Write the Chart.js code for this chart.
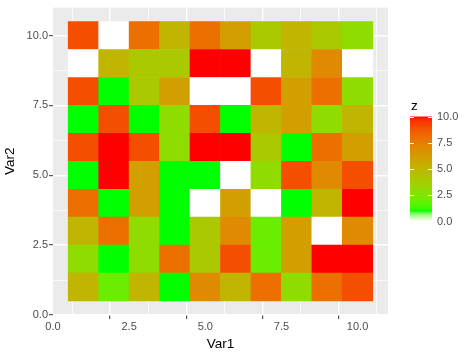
<!DOCTYPE html>
<html><head><meta charset="utf-8">
<script src="https://cdn.jsdelivr.net/npm/chart.js@4/dist/chart.umd.min.js"></script>
<style>html,body{margin:0;padding:0;background:#fff}</style>
</head><body>
<canvas id="c" width="474" height="354"></canvas>
<script>
// ---- data ----
const var1 = [1, 2, 3, 4, 5, 6, 7, 8, 9, 10];
const var2 = [1, 2, 3, 4, 5, 6, 7, 8, 9, 10];
const z_y1  = [5, 2, 5, 1, 7, 5, 8, 3, 8, 9];
const z_y2  = [3, 1, 3, 8, 4, 9, 2, 6, 10, 10];
const z_y3  = [5, 8, 3, 1, 4, 7, 2, 6, 0, 7];
const z_y4  = [8, 1, 6, 1, 0, 6, 0, 1, 5, 10];
const z_y5  = [1, 10, 6, 1, 1, 0, 3, 9, 7, 9];
const z_y6  = [9, 10, 9, 3, 10, 10, 4, 1, 8, 6];
const z_y7  = [1, 9, 1, 3, 9, 1, 5, 6, 3, 5];
const z_y8  = [9, 1, 4, 6, 0, 0, 9, 6, 8, 3];
const z_y9  = [0, 5, 4, 4, 10, 10, 0, 5, 7, 0];
const z_y10 = [9, 0, 8, 5, 8, 6, 4, 5, 4, 3];
const zRows = [z_y1, z_y2, z_y3, z_y4, z_y5, z_y6, z_y7, z_y8, z_y9, z_y10];
const axisMajorTicks = [0, 2.5, 5, 7.5, 10];
const axisMinorTicks = [1.25, 3.75, 6.25, 8.75];
const legendTicks = [0, 2.5, 5, 7.5, 10];
const colourStops = [[0, '#FFFFFF'], [1, '#00FF00'], [10, '#FF0000']];

// ---- colour (Lab interpolation like ggplot) ----
function hexToRgb(h){return [parseInt(h.slice(1,3),16),parseInt(h.slice(3,5),16),parseInt(h.slice(5,7),16)];}
function toLin(c){c/=255;return c<=0.04045?c/12.92:Math.pow((c+0.055)/1.055,2.4);}
function fromLin(c){c=c<=0.0031308?12.92*c:1.055*Math.pow(c,1/2.4)-0.055;return Math.max(0,Math.min(255,Math.round(c*255)));}
function rgbToLab(rgb){
  const [r,g,b]=rgb.map(toLin);
  let X=(0.4124*r+0.3576*g+0.1805*b)/0.95047, Y=(0.2126*r+0.7152*g+0.0722*b), Z=(0.0193*r+0.1192*g+0.9505*b)/1.08883;
  const f=t=>t>0.008856?Math.cbrt(t):(7.787*t+16/116);
  const fx=f(X),fy=f(Y),fz=f(Z);
  return [116*fy-16,500*(fx-fy),200*(fy-fz)];
}
function labToRgb(lab){
  const [L,a,b]=lab; const fy=(L+16)/116, fx=fy+a/500, fz=fy-b/200;
  const fi=t=>t*t*t>0.008856?t*t*t:(t-16/116)/7.787;
  const X=fi(fx)*0.95047, Y=fi(fy), Z=fi(fz)*1.08883;
  const r=3.2406*X-1.5372*Y-0.4986*Z, g=-0.9689*X+1.8758*Y+0.0415*Z, bb=0.0557*X-0.2040*Y+1.0570*Z;
  return 'rgb('+fromLin(r)+','+fromLin(g)+','+fromLin(bb)+')';
}
const stopLabs = colourStops.map(s=>[s[0], rgbToLab(hexToRgb(s[1]))]);
function colourFor(v){
  for(let i=0;i<stopLabs.length-1;i++){
    const [v0,l0]=stopLabs[i],[v1,l1]=stopLabs[i+1];
    if(v<=v1||i===stopLabs.length-2){
      const t=Math.max(0,Math.min(1,(v-v0)/(v1-v0)));
      return labToRgb([0,1,2].map(k=>l0[k]+(l1[k]-l0[k])*t));
    }
  }
}

const FONT = "'Liberation Sans', Arial, Helvetica, sans-serif";
const allTicks = axisMajorTicks.concat(axisMinorTicks).sort((a,b)=>a-b);
const isMajor = v => axisMajorTicks.includes(v);
const tickIsMajor = c => !!(c && c.tick && isMajor(c.tick.value));

const datasets = var2.map((yv, i) => ({
  label: 'y' + yv,
  data: var1.map(xv => ({x: xv, y: [yv - 0.5, yv + 0.5]})),
  backgroundColor: zRows[i].map(colourFor),
  borderWidth: 0,
  grouped: false,
  barPercentage: 1,
  categoryPercentage: 1
}));

function axisCfg(title, isX){
  return {
    type: 'linear', min: 0, max: 11, offset: false,
    border: {display: false},
    afterBuildTicks: s => { s.ticks = allTicks.map(v => ({value: v})); },
    afterFit: s => { if (isX) s.height = 39; else s.width = 53; },
    grid: {
      color: '#FFFFFF',
      lineWidth: c => tickIsMajor(c) ? 1.4 : 0.7,
      tickColor: c => tickIsMajor(c) ? '#333333' : 'rgba(0,0,0,0)',
      tickWidth: 1, tickLength: 4, drawTicks: true
    },
    ticks: {
      autoSkip: false, maxRotation: 0, padding: 1,
      color: '#4D4D4D', font: {family: FONT, size: 11},
      callback: v => isMajor(v) ? v.toFixed(1) : ''
    },
    title: {display: true, text: title, color: '#000000', font: {family: FONT, size: 13.5}, padding: {top: 2, bottom: 2}}
  };
}

const panelBg = {
  id: 'panelBg',
  beforeDraw(chart){
    const {ctx, chartArea: a} = chart;
    ctx.save(); ctx.fillStyle = '#EBEBEB';
    ctx.fillRect(a.left, a.top, a.right - a.left, a.bottom - a.top);
    ctx.restore();
  }
};

const colourLegend = {
  id: 'colourLegend',
  afterDraw(chart){
    const ctx = chart.ctx;
    const barX = 410, barW = 22;
    const yOf = v => 221.5 - v * 10.5;
    ctx.save();
    ctx.fillStyle = '#000'; ctx.font = '13.5px ' + FONT;
    ctx.textAlign = 'left'; ctx.textBaseline = 'middle';
    ctx.fillText('z', 411, 106);
    const g = ctx.createLinearGradient(0, yOf(0), 0, yOf(10));
    for (let i = 0; i <= 100; i++){ const v = i / 10; g.addColorStop(i / 100, colourFor(v)); }
    ctx.fillStyle = g;
    ctx.fillRect(barX, yOf(10), barW, yOf(0) - yOf(10));
    ctx.strokeStyle = '#FFFFFF'; ctx.lineWidth = 1;
    ctx.fillStyle = '#4D4D4D'; ctx.font = '11px ' + FONT;
    legendTicks.forEach(v => {
      const y = Math.round(yOf(v)) + 0.5;
      ctx.beginPath();
      ctx.moveTo(barX, y); ctx.lineTo(barX + 4, y);
      ctx.moveTo(barX + barW - 4, y); ctx.lineTo(barX + barW, y);
      ctx.stroke();
      ctx.fillText(v.toFixed(1), 437, yOf(v));
    });
    ctx.restore();
  }
};

new Chart(document.getElementById('c'), {
  type: 'bar',
  data: {datasets},
  options: {
    responsive: false, animation: false, devicePixelRatio: 1,
    layout: {padding: {top: 7, right: 86, left: 0, bottom: 0}},
    plugins: {legend: {display: false}, tooltip: {enabled: false}},
    scales: {x: axisCfg('Var1', true), y: axisCfg('Var2', false)}
  },
  plugins: [panelBg, colourLegend]
});
</script>
</body></html>
